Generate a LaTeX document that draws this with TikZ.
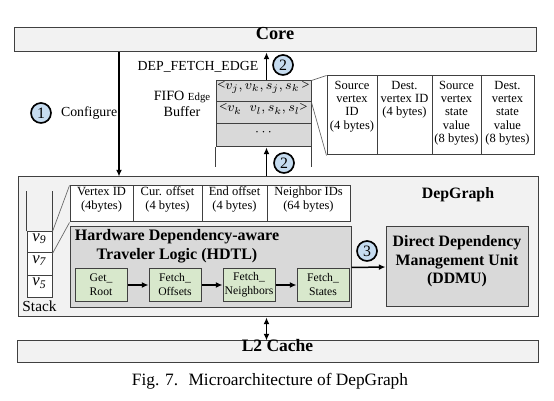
\documentclass[tikz,border=0pt]{standalone}
\usepackage{fontspec}
\setmainfont{Liberation Serif}
\usetikzlibrary{arrows.meta,positioning,fit}

\definecolor{panel}{HTML}{F2F2F2}
\definecolor{unitgray}{HTML}{D9D9D9}
\definecolor{stagegreen}{HTML}{D8E8CC}
\definecolor{numblue}{HTML}{C6DCF0}
\definecolor{rim}{HTML}{404040}

\begin{document}
\begin{tikzpicture}[x=0.6pt,y=-0.6pt,
  box/.style={draw=rim,line width=0.6pt,inner sep=0pt},
  bar/.style={box,fill=panel},
  unitbox/.style={box,fill=unitgray,align=center},
  cell/.style={box,fill=white,align=center},
  fldtxt/.style={anchor=north,align=center,inner sep=0pt,yshift=-3pt,font=\fontsize{7.5}{8}\selectfont},
  stage/.style={box,fill=stagegreen,minimum width=31.2pt,minimum height=19.8pt,align=center,font=\fontsize{7}{8.4}\selectfont},
  num/.style={circle,draw=black,line width=1pt,fill=numblue,inner sep=0pt,minimum size=12pt,font=\fontsize{9.5}{10}\selectfont},
  flow/.style={line width=0.9pt,-{Latex[length=4pt,width=3.6pt]}},
  zoomline/.style={draw=rim!80,line width=0.4pt}]
  \useasboundingbox (0,0) rectangle (554,401);

  % core, depgraph, L2
  \node[bar,fit={(14,28) (536,52)},font=\fontsize{11}{13}\bfseries] (core) {Core};
  \node[bar,fit={(18,177) (538,317)}] (dep) {};
  \node[font=\fontsize{9.5}{11}\bfseries] (deplbl) at (458,195) {DepGraph};
  \node[bar,fit={(17,341) (538,363)},font=\fontsize{10.5}{12}\bfseries] (l2) {L2 Cache};

  % FIFO edge buffer
  \node[unitbox,fit={(216,81) (311,102)},font=\fontsize{8.4}{9}\selectfont] (e1) {\mbox{\textless$v_j, v_k, s_j, s_k$\,\textgreater}};
  \node[unitbox,fit={(216,102) (311,124)},font=\fontsize{8.4}{9}\selectfont] (e2) {\mbox{\textless$v_k\;\; v_l, s_k, s_l$\textgreater}};
  \node[unitbox,fit={(216,124) (311,147)},font=\fontsize{8.4}{9}\selectfont] (e3) {$\cdots$};
  \draw[rim,line width=0.6pt] (e3.south west) -- ++(0,20) (e3.south east) -- ++(0,20);
  \node[align=center,font=\fontsize{8.5}{9.6}\selectfont] (fifo) at (182,104) {FIFO {\fontsize{6.5}{7}\selectfont Edge}\\Buffer};

  % edge fields
  \node[cell,fit={(327,76) (377,155)},label={[fldtxt]north:Source\\vertex\\ID\\(4 bytes)}] (srcid) {};
  \node[cell,fit={(377,76) (432,155)},label={[fldtxt]north:Dest.\\vertex ID\\(4 bytes)}] (dstid) {};
  \node[cell,fit={(432,76) (481,155)},label={[fldtxt]north:Source\\vertex\\state\\value\\(8 bytes)}] (srcval) {};
  \node[cell,fit={(481,76) (534,155)},label={[fldtxt]north:Dest.\\vertex\\state\\value\\(8 bytes)}] (dstval) {};
  \draw[zoomline] (e1.north east) -- (srcid.north west) (e1.south east) -- (srcid.south west);

  % stack
  \node[cell,fit={(27,232) (52,253)},font=\fontsize{10}{10}\selectfont] (s9) {\textit{v}\textsubscript{\textit{9}}};
  \node[cell,fit={(27,253) (52,276)},font=\fontsize{10}{10}\selectfont] (s7) {\textit{v}\textsubscript{\textit{7}}};
  \node[cell,fit={(27,276) (52,298)},font=\fontsize{10}{10}\selectfont] (s5) {\textit{v}\textsubscript{\textit{5}}};
  \draw[rim,line width=0.6pt] (s9.north west) -- ++(0,-40) (s9.north east) -- ++(0,-40);
  \node[below=0pt of s5,inner sep=1pt,font=\fontsize{9.2}{10}\selectfont] (stacklbl) {Stack};

  % vertex fields
  \node[cell,fit={(70,186) (133,222)},font=\fontsize{7.5}{8.2}\selectfont] (vid) {Vertex ID\\(4bytes)};
  \node[cell,fit={(133,186) (202,222)},font=\fontsize{7.5}{8.2}\selectfont] (cur) {Cur. offset\\(4 bytes)};
  \node[cell,fit={(202,186) (267,222)},font=\fontsize{7.5}{8.2}\selectfont] (end) {End offset\\(4 bytes)};
  \node[cell,fit={(267,186) (350,222)},font=\fontsize{7.5}{8.2}\selectfont] (nbr) {Neighbor IDs\\(64 bytes)};
  \draw[zoomline] (s9.north east) -- (vid.north west) (s9.south east) -- (vid.south west);

  % HDTL
  \node[unitbox,fit={(70,227) (351,308)}] (hdtl) {};
  \node[align=center,font=\fontsize{9.6}{11.4}\bfseries] (hdtllbl) at (177,246.5) {Hardware Dependency-aware\\Traveler Logic (HDTL)};
  \node[stage] (root) at (101,285) {Get\_\\Root};
  \node[stage,right=12.6pt of root] (offs) {Fetch\_\\Offsets};
  \node[stage,right=12.6pt of offs] (nbrs) {Fetch\_\\Neighbors};
  \node[stage,right=12.6pt of nbrs] (stat) {Fetch\_\\States};
  \draw[flow] (root) -- (offs);
  \draw[flow] (offs) -- (nbrs);
  \draw[flow] (nbrs) -- (stat);

  % DDMU
  \node[unitbox,fit={(386,227) (528,307)},font=\fontsize{9.5}{11}\bfseries] (ddmu) {Direct Dependency\\Management Unit\\(DDMU)};

  % connections
  \coordinate (cfg) at (119,0);
  \coordinate (tap) at (266.5,0);
  \draw[flow] (core.south -| cfg) -- (dep.north -| cfg);
  \draw[flow] (e1.north -| tap) -- (core.south -| tap);
  \draw[flow] (dep.north -| tap) -- (e3.south -| tap);
  \draw[flow] (hdtl.east) -- (ddmu.west);
  \draw[line width=0.9pt,{Latex[length=4pt,width=3.6pt]}-{Latex[length=4pt,width=3.6pt]}] (dep.south -| tap) -- (l2.north -| tap);

  \node[num] (n1) at (41,113) {1};
  \node[right=2pt of n1,font=\fontsize{8.3}{9}\selectfont] (cfglbl) {Configure};
  \node[num] (n2a) at (283,65) {2};
  \node[font=\fontsize{8.3}{9}\selectfont] (deplink) at (198,67) {DEP\_FETCH\_EDGE};
  \node[num] (n2b) at (284,163) {2};
  \node[num] (n3) at (367,251) {3};

  % caption
  \node[font=\fontsize{10.4}{12}\selectfont] (cap) at (270,381) {Fig. 7.\hspace{0.6em}Microarchitecture of DepGraph};
\end{tikzpicture}
\end{document}
